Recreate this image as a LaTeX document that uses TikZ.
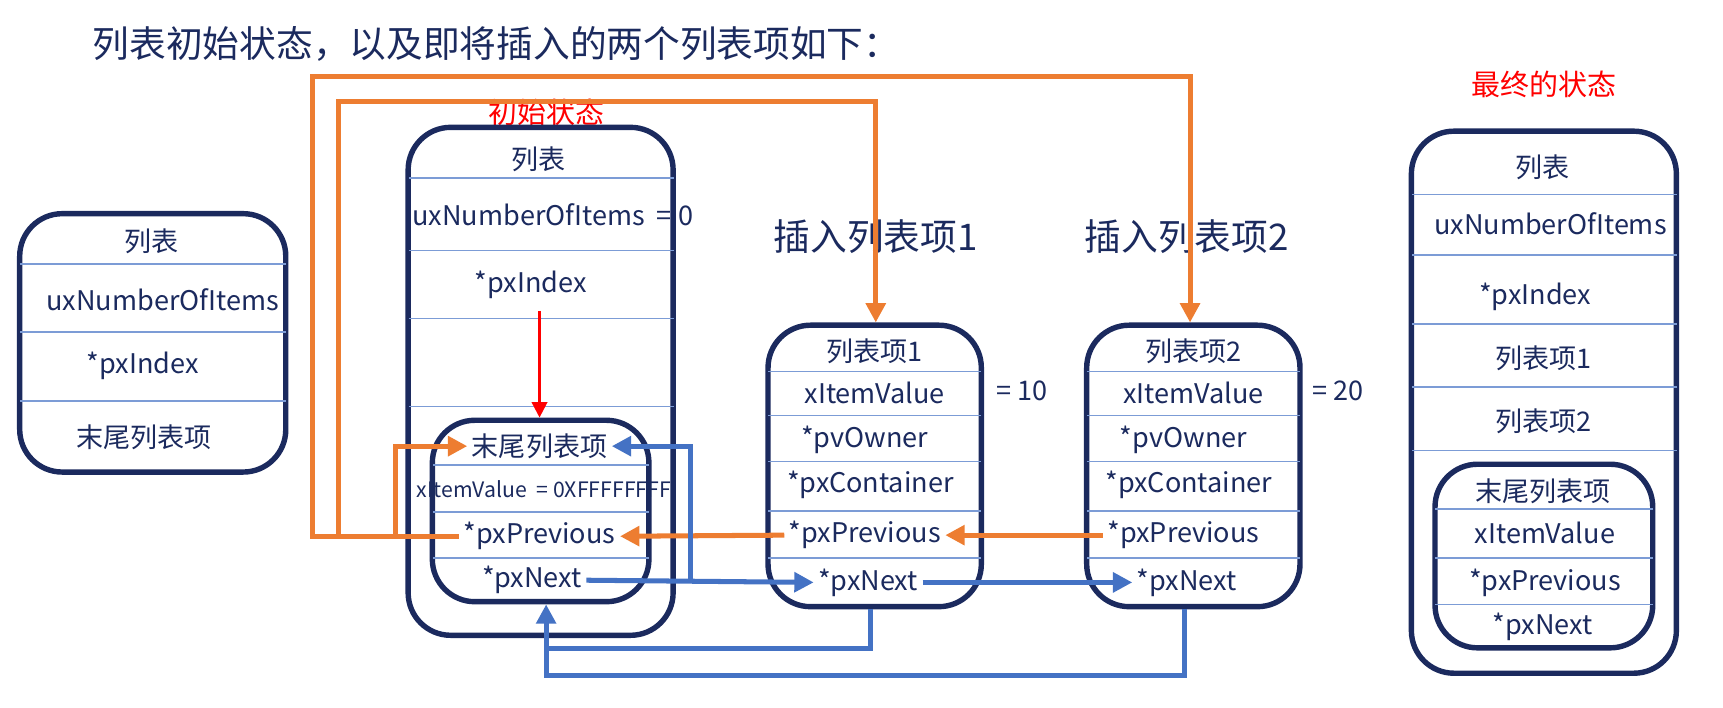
\documentclass[tikz,border=0pt]{standalone}
\usepackage{fontspec}
\setmainfont{Noto Sans CJK SC}
\usetikzlibrary{arrows.meta}
\definecolor{navy}{HTML}{1B2A5E}
\definecolor{ora}{HTML}{ED7D31}
\definecolor{blu}{HTML}{4472C4}
\begin{document}
\begin{tikzpicture}[x=0.01cm,y=-0.01cm,
  box/.style={draw=navy, line width=1.4pt, rounded corners=11pt, inner sep=0pt},
  sep/.style={draw=blu!70, line width=0.4pt},
  t/.style={text=navy, font=\fontsize{7}{8}\selectfont, inner sep=1pt},
  big/.style={text=navy, font=\fontsize{9.5}{11}\selectfont},
  ow/.style={draw=ora, line width=1.3pt, -{Triangle[length=5pt,width=5pt]}},
  bw/.style={draw=blu, line width=1.3pt, -{Triangle[length=5pt,width=5pt]}}]
\useasboundingbox (0,0) rectangle (1568,644);
\node[big, anchor=west] (title) at (72,40) {列表初始状态，以及即将插入的两个列表项如下：};
\node[text=red, font=\fontsize{7.5}{9}\selectfont] (init) at (497,102) {初始状态};
\node[text=red, font=\fontsize{7.5}{9}\selectfont] (fin) at (1405,77) {最终的状态};
\node[big] (ins1) at (797,215) {插入列表项1};
\node[big] (ins2) at (1080,215) {插入列表项2};
% box A
\node[box, minimum width=2.42cm, minimum height=2.35cm] (A) at (139,312) {};
\foreach \y in {240,302,365} \draw[sep] (18,\y) -- (260,\y);
\node[t] (a1) at (138,220) {列表};
\node[t] (a2) at (148,273) {uxNumberOfItems};
\node[t] (a3) at (130,333) {*pxIndex};
\node[t] (a4) at (131,398) {末尾列表项};
% box B
\node[box, minimum width=2.41cm, minimum height=4.62cm] (B) at (492,347) {};
\foreach \y in {162,228,290,370} \draw[sep] (372,\y) -- (613,\y);
\node[t] (b1) at (490,145) {列表};
\node[t] (b2) at (503,195) {uxNumberOfItems \ = 0};
\node[t] (b3) at (483,259) {*pxIndex};
\node[box, fill=white, minimum width=1.97cm, minimum height=1.65cm] (BE) at (492,465) {};
\foreach \y in {423,466,508} \draw[sep] (394,\y) -- (591,\y);
\node[t] (be1) at (491,406) {末尾列表项};
\node[t, font=\fontsize{5.5}{7}\selectfont] (be2) at (495,445) {xItemValue \ = 0XFFFFFFFF};
\node[t] (be3) at (491,488) {*pxPrevious};
\node[t] (be4) at (484,528) {*pxNext};
% box C and D
\foreach \n/\cx/\k/\v/\vx in {C/796/1/10/930, D/1086/2/20/1218}{
  \node[box, minimum width=1.94cm, minimum height=2.56cm] (\n) at (\cx,424) {};
  \foreach \y in {338,378,420,465,508} \draw[sep] (\cx-97,\y) -- (\cx+97,\y);
  \node[t] (\n1) at (\cx,320) {列表项\k};
  \node[t] (\n2) at (\cx,358) {xItemValue};
  \node[t] (\n3) at (\cx-9,400) {*pvOwner};
  \node[t] (\n4) at (\cx-4,441) {*pxContainer};
  \node[t] (\n5) at (\cx-9,487) {*pxPrevious};
  \node[t] (\n6) at (\cx-6,530) {*pxNext};
  \node[t] (\n v) at (\vx,356) {= \v};
}
% box E
\node[box, minimum width=2.41cm, minimum height=4.93cm] (E) at (1405,366) {};
\foreach \y in {177,232,295,352,410} \draw[sep] (1285,\y) -- (1526,\y);
\node[t] (e1) at (1404,152) {列表};
\node[t] (e2) at (1411,204) {uxNumberOfItems};
\node[t] (e3) at (1397,270) {*pxIndex};
\node[t] (e4) at (1405,326) {列表项1};
\node[t] (e5) at (1405,383) {列表项2};
\node[box, minimum width=1.98cm, minimum height=1.67cm] (EE) at (1405,506) {};
\foreach \y in {463,508,550} \draw[sep] (1306,\y) -- (1504,\y);
\node[t] (ee1) at (1404,447) {末尾列表项};
\node[t] (ee2) at (1406,485) {xItemValue};
\node[t] (ee3) at (1406,530) {*pxPrevious};
\node[t] (ee4) at (1404,570) {*pxNext};
% arrows
\draw[red, line width=0.6pt, -{Triangle[length=4pt,width=4pt]}] (491,283) -- (BE.north -| 491,0);
\draw[ow] (be3.west) -- (284,488) -- (284,70) -- (1083,70) -- (D.north -| 1083,0);
\draw[ow] (308,488) -- (308,92) -- (797,92) -- (C.north -| 797,0);
\draw[ow] (360,488) -- (360,406) -- (be1.west);
\draw[ow] (C5.west) -- (be3.east);
\draw[ow] (D5.west) -- (C5.east);
\draw[bw] (be4.east) -- (C6.west);
\draw[bw] (628,530) -- (628,406) -- (be1.east);
\draw[bw] (C6.east) -- (D6.west);
\draw[draw=blu, line width=1.3pt] (C.south -| 792,0) -- (792,590) -- (497,590);
\draw[bw] (D.south -| 1078,0) -- (1078,615) -- (497,615) -- (BE.south -| 497,0);
\end{tikzpicture}
\end{document}
